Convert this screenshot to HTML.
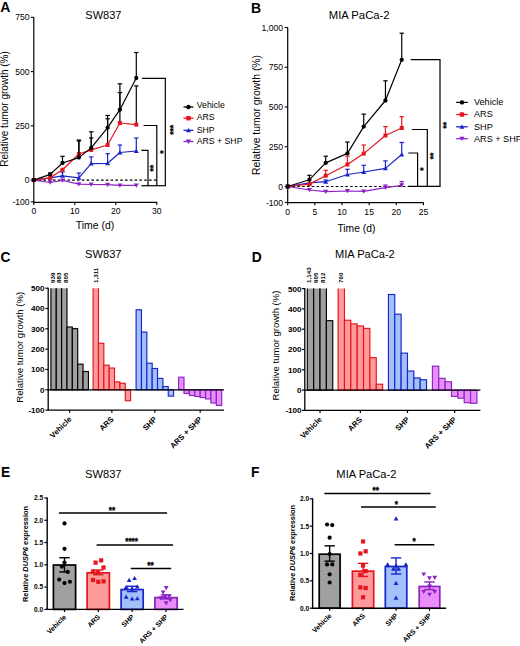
<!DOCTYPE html>
<html><head><meta charset="utf-8"><style>
html,body{margin:0;padding:0;background:#fff;}
svg{display:block;font-family:"Liberation Sans", sans-serif;}
</style></head><body>
<svg width="520" height="646" viewBox="0 0 520 646">
<rect width="520" height="646" fill="#fff"/>
<text x="0.3" y="12.3" font-size="14" text-anchor="start" font-weight="bold" fill="#000">A</text>
<text x="103.4" y="18.7" font-size="11" text-anchor="middle" fill="#000">SW837</text>
<line x1="33.80" y1="17.35" x2="33.80" y2="202.30" stroke="#000" stroke-width="1.2"/>
<line x1="33.20" y1="202.30" x2="157.20" y2="202.30" stroke="#000" stroke-width="1.2"/>
<line x1="30.80" y1="17.35" x2="33.80" y2="17.35" stroke="#000" stroke-width="1.1"/>
<text x="29.6" y="20.449999999999996" font-size="8.6" text-anchor="end" fill="#000">750</text>
<line x1="30.80" y1="71.60" x2="33.80" y2="71.60" stroke="#000" stroke-width="1.1"/>
<text x="29.6" y="74.69999999999999" font-size="8.6" text-anchor="end" fill="#000">500</text>
<line x1="30.80" y1="125.85" x2="33.80" y2="125.85" stroke="#000" stroke-width="1.1"/>
<text x="29.6" y="128.95" font-size="8.6" text-anchor="end" fill="#000">250</text>
<line x1="30.80" y1="180.10" x2="33.80" y2="180.10" stroke="#000" stroke-width="1.1"/>
<text x="29.6" y="183.2" font-size="8.6" text-anchor="end" fill="#000">0</text>
<line x1="30.80" y1="201.80" x2="33.80" y2="201.80" stroke="#000" stroke-width="1.1"/>
<text x="29.6" y="204.89999999999998" font-size="8.6" text-anchor="end" fill="#000">-100</text>
<line x1="33.80" y1="202.30" x2="33.80" y2="205.00" stroke="#000" stroke-width="1.1"/>
<text x="33.8" y="214.3" font-size="8.6" text-anchor="middle" fill="#000">0</text>
<line x1="74.80" y1="202.30" x2="74.80" y2="205.00" stroke="#000" stroke-width="1.1"/>
<text x="74.8" y="214.3" font-size="8.6" text-anchor="middle" fill="#000">10</text>
<line x1="115.80" y1="202.30" x2="115.80" y2="205.00" stroke="#000" stroke-width="1.1"/>
<text x="115.8" y="214.3" font-size="8.6" text-anchor="middle" fill="#000">20</text>
<line x1="156.80" y1="202.30" x2="156.80" y2="205.00" stroke="#000" stroke-width="1.1"/>
<text x="156.79999999999998" y="214.3" font-size="8.6" text-anchor="middle" fill="#000">30</text>
<text x="95.0" y="229.2" font-size="10.4" text-anchor="middle" fill="#000">Time (d)</text>
<text x="8.3" y="109.0" font-size="10" text-anchor="middle" fill="#000" transform="rotate(-90 8.3 109.0)">Relative tumor growth (%)</text>
<line x1="33.80" y1="180.10" x2="157.00" y2="180.10" stroke="#000" stroke-width="1.1" stroke-dasharray="2.6,2.2"/>
<polyline points="33.80,180.10 50.20,182.50 62.50,180.50 78.90,184.10 91.20,184.50 107.60,184.70 119.90,185.40 136.30,185.40" fill="none" stroke="#8a22c4" stroke-width="1.2" stroke-linejoin="round"/>
<polygon points="33.80,182.47 31.33,178.16 36.27,178.16" fill="#8a22c4"/>
<polygon points="50.20,184.87 47.73,180.56 52.67,180.56" fill="#8a22c4"/>
<polygon points="62.50,182.87 60.03,178.56 64.97,178.56" fill="#8a22c4"/>
<polygon points="78.90,186.47 76.43,182.16 81.37,182.16" fill="#8a22c4"/>
<polygon points="91.20,186.87 88.73,182.56 93.67,182.56" fill="#8a22c4"/>
<polygon points="107.60,187.06 105.13,182.76 110.07,182.76" fill="#8a22c4"/>
<polygon points="119.90,187.77 117.43,183.47 122.37,183.47" fill="#8a22c4"/>
<polygon points="136.30,187.77 133.83,183.47 138.77,183.47" fill="#8a22c4"/>
<line x1="62.50" y1="175.80" x2="62.50" y2="172.00" stroke="#1a24c8" stroke-width="1.2"/>
<line x1="60.30" y1="172.00" x2="64.70" y2="172.00" stroke="#1a24c8" stroke-width="1.2"/>
<line x1="78.90" y1="177.80" x2="78.90" y2="173.00" stroke="#1a24c8" stroke-width="1.2"/>
<line x1="76.70" y1="173.00" x2="81.10" y2="173.00" stroke="#1a24c8" stroke-width="1.2"/>
<line x1="91.20" y1="163.60" x2="91.20" y2="156.90" stroke="#1a24c8" stroke-width="1.2"/>
<line x1="89.00" y1="156.90" x2="93.40" y2="156.90" stroke="#1a24c8" stroke-width="1.2"/>
<line x1="107.60" y1="163.30" x2="107.60" y2="153.70" stroke="#1a24c8" stroke-width="1.2"/>
<line x1="105.40" y1="153.70" x2="109.80" y2="153.70" stroke="#1a24c8" stroke-width="1.2"/>
<line x1="119.90" y1="152.50" x2="119.90" y2="145.00" stroke="#1a24c8" stroke-width="1.2"/>
<line x1="117.70" y1="145.00" x2="122.10" y2="145.00" stroke="#1a24c8" stroke-width="1.2"/>
<line x1="136.30" y1="151.00" x2="136.30" y2="138.00" stroke="#1a24c8" stroke-width="1.2"/>
<line x1="134.10" y1="138.00" x2="138.50" y2="138.00" stroke="#1a24c8" stroke-width="1.2"/>
<polyline points="33.80,180.10 50.20,177.80 62.50,175.80 78.90,177.80 91.20,163.60 107.60,163.30 119.90,152.50 136.30,151.00" fill="none" stroke="#1a24c8" stroke-width="1.2" stroke-linejoin="round"/>
<polygon points="33.80,177.73 31.33,182.03 36.27,182.03" fill="#1a24c8"/>
<polygon points="50.20,175.44 47.73,179.74 52.67,179.74" fill="#1a24c8"/>
<polygon points="62.50,173.44 60.03,177.74 64.97,177.74" fill="#1a24c8"/>
<polygon points="78.90,175.44 76.43,179.74 81.37,179.74" fill="#1a24c8"/>
<polygon points="91.20,161.23 88.73,165.53 93.67,165.53" fill="#1a24c8"/>
<polygon points="107.60,160.94 105.13,165.24 110.07,165.24" fill="#1a24c8"/>
<polygon points="119.90,150.13 117.43,154.44 122.37,154.44" fill="#1a24c8"/>
<polygon points="136.30,148.63 133.83,152.94 138.77,152.94" fill="#1a24c8"/>
<line x1="78.90" y1="154.00" x2="78.90" y2="141.00" stroke="#000" stroke-width="1.2"/>
<line x1="76.70" y1="141.00" x2="81.10" y2="141.00" stroke="#000" stroke-width="1.2"/>
<line x1="91.20" y1="149.90" x2="91.20" y2="138.00" stroke="#000" stroke-width="1.2"/>
<line x1="89.00" y1="138.00" x2="93.40" y2="138.00" stroke="#000" stroke-width="1.2"/>
<line x1="107.60" y1="145.00" x2="107.60" y2="118.80" stroke="#000" stroke-width="1.2"/>
<line x1="105.40" y1="118.80" x2="109.80" y2="118.80" stroke="#000" stroke-width="1.2"/>
<line x1="119.90" y1="123.00" x2="119.90" y2="92.60" stroke="#000" stroke-width="1.2"/>
<line x1="117.70" y1="92.60" x2="122.10" y2="92.60" stroke="#000" stroke-width="1.2"/>
<line x1="136.30" y1="124.60" x2="136.30" y2="85.90" stroke="#000" stroke-width="1.2"/>
<line x1="134.10" y1="85.90" x2="138.50" y2="85.90" stroke="#000" stroke-width="1.2"/>
<polyline points="33.80,180.10 50.20,177.80 62.50,169.70 78.90,154.00 91.20,149.90 107.60,145.00 119.90,123.00 136.30,124.60" fill="none" stroke="#e3151f" stroke-width="1.2" stroke-linejoin="round"/>
<rect x="31.80" y="178.10" width="4.00" height="4.00" fill="#e3151f"/>
<rect x="48.20" y="175.80" width="4.00" height="4.00" fill="#e3151f"/>
<rect x="60.50" y="167.70" width="4.00" height="4.00" fill="#e3151f"/>
<rect x="76.90" y="152.00" width="4.00" height="4.00" fill="#e3151f"/>
<rect x="89.20" y="147.90" width="4.00" height="4.00" fill="#e3151f"/>
<rect x="105.60" y="143.00" width="4.00" height="4.00" fill="#e3151f"/>
<rect x="117.90" y="121.00" width="4.00" height="4.00" fill="#e3151f"/>
<rect x="134.30" y="122.60" width="4.00" height="4.00" fill="#e3151f"/>
<line x1="50.20" y1="174.40" x2="50.20" y2="173.00" stroke="#000" stroke-width="1.2"/>
<line x1="48.00" y1="173.00" x2="52.40" y2="173.00" stroke="#000" stroke-width="1.2"/>
<line x1="62.50" y1="163.00" x2="62.50" y2="156.30" stroke="#000" stroke-width="1.2"/>
<line x1="60.30" y1="156.30" x2="64.70" y2="156.30" stroke="#000" stroke-width="1.2"/>
<line x1="78.90" y1="157.60" x2="78.90" y2="140.00" stroke="#000" stroke-width="1.2"/>
<line x1="76.70" y1="140.00" x2="81.10" y2="140.00" stroke="#000" stroke-width="1.2"/>
<line x1="91.20" y1="147.90" x2="91.20" y2="131.80" stroke="#000" stroke-width="1.2"/>
<line x1="89.00" y1="131.80" x2="93.40" y2="131.80" stroke="#000" stroke-width="1.2"/>
<line x1="107.60" y1="127.70" x2="107.60" y2="115.50" stroke="#000" stroke-width="1.2"/>
<line x1="105.40" y1="115.50" x2="109.80" y2="115.50" stroke="#000" stroke-width="1.2"/>
<line x1="119.90" y1="109.70" x2="119.90" y2="83.80" stroke="#000" stroke-width="1.2"/>
<line x1="117.70" y1="83.80" x2="122.10" y2="83.80" stroke="#000" stroke-width="1.2"/>
<line x1="136.30" y1="78.00" x2="136.30" y2="52.50" stroke="#000" stroke-width="1.2"/>
<line x1="134.10" y1="52.50" x2="138.50" y2="52.50" stroke="#000" stroke-width="1.2"/>
<polyline points="33.80,180.10 50.20,174.40 62.50,163.00 78.90,157.60 91.20,147.90 107.60,127.70 119.90,109.70 136.30,78.00" fill="none" stroke="#000" stroke-width="1.2" stroke-linejoin="round"/>
<circle cx="33.80" cy="180.10" r="2.15" fill="#000"/>
<circle cx="50.20" cy="174.40" r="2.15" fill="#000"/>
<circle cx="62.50" cy="163.00" r="2.15" fill="#000"/>
<circle cx="78.90" cy="157.60" r="2.15" fill="#000"/>
<circle cx="91.20" cy="147.90" r="2.15" fill="#000"/>
<circle cx="107.60" cy="127.70" r="2.15" fill="#000"/>
<circle cx="119.90" cy="109.70" r="2.15" fill="#000"/>
<circle cx="136.30" cy="78.00" r="2.15" fill="#000"/>
<polyline points="141.9,78.4 165.3,78.4 165.3,185.7" fill="none" stroke="#000" stroke-width="1.2"/>
<polyline points="143.5,125.5 156.8,125.5 156.8,185.7" fill="none" stroke="#000" stroke-width="1.2"/>
<polyline points="141.4,150.4 148.0,150.4 148.0,185.7" fill="none" stroke="#000" stroke-width="1.2"/>
<line x1="141.40" y1="185.70" x2="165.90" y2="185.70" stroke="#000" stroke-width="1.2"/>
<text x="175.8" y="129.8" font-size="8.3" text-anchor="middle" font-weight="bold" fill="#000" stroke="#000" stroke-width="0.3" transform="rotate(-90 175.8 129.8)">***</text>
<text x="166.2" y="152.1" font-size="8.3" text-anchor="middle" font-weight="bold" fill="#000" stroke="#000" stroke-width="0.3" transform="rotate(-90 166.2 152.1)">*</text>
<text x="156.4" y="168.3" font-size="8.3" text-anchor="middle" font-weight="bold" fill="#000" stroke="#000" stroke-width="0.3" transform="rotate(-90 156.4 168.3)">**</text>
<line x1="183.50" y1="107.00" x2="193.40" y2="107.00" stroke="#000" stroke-width="1.3"/>
<circle cx="188.45" cy="107.00" r="2.2" fill="#000"/>
<text x="196.8" y="107.7" font-size="8.7" text-anchor="start" fill="#000">Vehicle</text>
<line x1="183.50" y1="118.20" x2="193.40" y2="118.20" stroke="#e3151f" stroke-width="1.3"/>
<rect x="186.25" y="116.00" width="4.40" height="4.40" fill="#e3151f"/>
<text x="196.8" y="119.7" font-size="8.7" text-anchor="start" fill="#000">ARS</text>
<line x1="183.50" y1="130.30" x2="193.40" y2="130.30" stroke="#1a24c8" stroke-width="1.3"/>
<polygon points="188.45,127.88 185.92,132.28 190.98,132.28" fill="#1a24c8"/>
<text x="196.8" y="132.9" font-size="8.7" text-anchor="start" fill="#000">SHP</text>
<line x1="183.50" y1="141.50" x2="193.40" y2="141.50" stroke="#8a22c4" stroke-width="1.3"/>
<polygon points="188.45,143.92 185.92,139.52 190.98,139.52" fill="#8a22c4"/>
<text x="196.8" y="144.4" font-size="8.7" text-anchor="start" fill="#000">ARS + SHP</text>
<text x="251.0" y="12.6" font-size="14" text-anchor="start" font-weight="bold" fill="#000">B</text>
<text x="359.2" y="19.2" font-size="11.3" text-anchor="middle" fill="#000">MIA PaCa-2</text>
<line x1="287.70" y1="27.50" x2="287.70" y2="202.60" stroke="#000" stroke-width="1.2"/>
<line x1="287.10" y1="202.60" x2="423.45" y2="202.60" stroke="#000" stroke-width="1.2"/>
<line x1="284.70" y1="27.50" x2="287.70" y2="27.50" stroke="#000" stroke-width="1.1"/>
<text x="283.1" y="30.6" font-size="8.6" text-anchor="end" fill="#000">1,000</text>
<line x1="284.70" y1="67.25" x2="287.70" y2="67.25" stroke="#000" stroke-width="1.1"/>
<text x="283.1" y="70.35" font-size="8.6" text-anchor="end" fill="#000">750</text>
<line x1="284.70" y1="107.00" x2="287.70" y2="107.00" stroke="#000" stroke-width="1.1"/>
<text x="283.1" y="110.1" font-size="8.6" text-anchor="end" fill="#000">500</text>
<line x1="284.70" y1="146.75" x2="287.70" y2="146.75" stroke="#000" stroke-width="1.1"/>
<text x="283.1" y="149.85" font-size="8.6" text-anchor="end" fill="#000">250</text>
<line x1="284.70" y1="186.50" x2="287.70" y2="186.50" stroke="#000" stroke-width="1.1"/>
<text x="283.1" y="189.6" font-size="8.6" text-anchor="end" fill="#000">0</text>
<line x1="284.70" y1="202.40" x2="287.70" y2="202.40" stroke="#000" stroke-width="1.1"/>
<text x="283.1" y="205.5" font-size="8.6" text-anchor="end" fill="#000">-100</text>
<line x1="287.70" y1="202.60" x2="287.70" y2="205.30" stroke="#000" stroke-width="1.1"/>
<text x="287.7" y="214.6" font-size="8.6" text-anchor="middle" fill="#000">0</text>
<line x1="314.85" y1="202.60" x2="314.85" y2="205.30" stroke="#000" stroke-width="1.1"/>
<text x="314.84999999999997" y="214.6" font-size="8.6" text-anchor="middle" fill="#000">5</text>
<line x1="342.00" y1="202.60" x2="342.00" y2="205.30" stroke="#000" stroke-width="1.1"/>
<text x="342.0" y="214.6" font-size="8.6" text-anchor="middle" fill="#000">10</text>
<line x1="369.15" y1="202.60" x2="369.15" y2="205.30" stroke="#000" stroke-width="1.1"/>
<text x="369.15" y="214.6" font-size="8.6" text-anchor="middle" fill="#000">15</text>
<line x1="396.30" y1="202.60" x2="396.30" y2="205.30" stroke="#000" stroke-width="1.1"/>
<text x="396.29999999999995" y="214.6" font-size="8.6" text-anchor="middle" fill="#000">20</text>
<line x1="423.45" y1="202.60" x2="423.45" y2="205.30" stroke="#000" stroke-width="1.1"/>
<text x="423.45" y="214.6" font-size="8.6" text-anchor="middle" fill="#000">25</text>
<text x="356.4" y="231.7" font-size="10.3" text-anchor="middle" fill="#000">Time (d)</text>
<text x="259.8" y="115.0" font-size="10.4" text-anchor="middle" fill="#000" transform="rotate(-90 259.8 115.0)">Relative tumor growth (%)</text>
<line x1="287.70" y1="186.50" x2="409.00" y2="186.50" stroke="#000" stroke-width="1.1" stroke-dasharray="2.6,2.2"/>
<line x1="385.44" y1="187.60" x2="385.44" y2="185.00" stroke="#8a22c4" stroke-width="1.2"/>
<line x1="383.24" y1="185.00" x2="387.64" y2="185.00" stroke="#8a22c4" stroke-width="1.2"/>
<line x1="401.73" y1="185.30" x2="401.73" y2="181.50" stroke="#8a22c4" stroke-width="1.2"/>
<line x1="399.53" y1="181.50" x2="403.93" y2="181.50" stroke="#8a22c4" stroke-width="1.2"/>
<polyline points="287.70,186.50 309.42,190.00 325.71,191.60 347.43,191.00 363.72,191.40 385.44,187.60 401.73,185.30" fill="none" stroke="#8a22c4" stroke-width="1.2" stroke-linejoin="round"/>
<polygon points="287.70,188.87 285.23,184.56 290.17,184.56" fill="#8a22c4"/>
<polygon points="309.42,192.37 306.95,188.06 311.89,188.06" fill="#8a22c4"/>
<polygon points="325.71,193.97 323.24,189.66 328.18,189.66" fill="#8a22c4"/>
<polygon points="347.43,193.37 344.96,189.06 349.90,189.06" fill="#8a22c4"/>
<polygon points="363.72,193.77 361.25,189.47 366.19,189.47" fill="#8a22c4"/>
<polygon points="385.44,189.97 382.97,185.66 387.91,185.66" fill="#8a22c4"/>
<polygon points="401.73,187.67 399.26,183.37 404.20,183.37" fill="#8a22c4"/>
<line x1="325.71" y1="181.70" x2="325.71" y2="180.00" stroke="#1a24c8" stroke-width="1.2"/>
<line x1="323.51" y1="180.00" x2="327.91" y2="180.00" stroke="#1a24c8" stroke-width="1.2"/>
<line x1="347.43" y1="174.50" x2="347.43" y2="169.30" stroke="#1a24c8" stroke-width="1.2"/>
<line x1="345.23" y1="169.30" x2="349.63" y2="169.30" stroke="#1a24c8" stroke-width="1.2"/>
<line x1="363.72" y1="172.00" x2="363.72" y2="165.30" stroke="#1a24c8" stroke-width="1.2"/>
<line x1="361.52" y1="165.30" x2="365.92" y2="165.30" stroke="#1a24c8" stroke-width="1.2"/>
<line x1="385.44" y1="168.40" x2="385.44" y2="160.90" stroke="#1a24c8" stroke-width="1.2"/>
<line x1="383.24" y1="160.90" x2="387.64" y2="160.90" stroke="#1a24c8" stroke-width="1.2"/>
<line x1="401.73" y1="154.50" x2="401.73" y2="142.50" stroke="#1a24c8" stroke-width="1.2"/>
<line x1="399.53" y1="142.50" x2="403.93" y2="142.50" stroke="#1a24c8" stroke-width="1.2"/>
<polyline points="287.70,186.50 309.42,182.80 325.71,181.70 347.43,174.50 363.72,172.00 385.44,168.40 401.73,154.50" fill="none" stroke="#1a24c8" stroke-width="1.2" stroke-linejoin="round"/>
<polygon points="287.70,184.13 285.23,188.44 290.17,188.44" fill="#1a24c8"/>
<polygon points="309.42,180.44 306.95,184.74 311.89,184.74" fill="#1a24c8"/>
<polygon points="325.71,179.33 323.24,183.63 328.18,183.63" fill="#1a24c8"/>
<polygon points="347.43,172.13 344.96,176.44 349.90,176.44" fill="#1a24c8"/>
<polygon points="363.72,169.63 361.25,173.94 366.19,173.94" fill="#1a24c8"/>
<polygon points="385.44,166.03 382.97,170.34 387.91,170.34" fill="#1a24c8"/>
<polygon points="401.73,152.13 399.26,156.44 404.20,156.44" fill="#1a24c8"/>
<line x1="325.71" y1="175.70" x2="325.71" y2="170.30" stroke="#e3151f" stroke-width="1.2"/>
<line x1="323.51" y1="170.30" x2="327.91" y2="170.30" stroke="#e3151f" stroke-width="1.2"/>
<line x1="347.43" y1="164.50" x2="347.43" y2="156.20" stroke="#e3151f" stroke-width="1.2"/>
<line x1="345.23" y1="156.20" x2="349.63" y2="156.20" stroke="#e3151f" stroke-width="1.2"/>
<line x1="363.72" y1="153.60" x2="363.72" y2="145.00" stroke="#e3151f" stroke-width="1.2"/>
<line x1="361.52" y1="145.00" x2="365.92" y2="145.00" stroke="#e3151f" stroke-width="1.2"/>
<line x1="385.44" y1="135.50" x2="385.44" y2="126.60" stroke="#e3151f" stroke-width="1.2"/>
<line x1="383.24" y1="126.60" x2="387.64" y2="126.60" stroke="#e3151f" stroke-width="1.2"/>
<line x1="401.73" y1="128.00" x2="401.73" y2="116.70" stroke="#e3151f" stroke-width="1.2"/>
<line x1="399.53" y1="116.70" x2="403.93" y2="116.70" stroke="#e3151f" stroke-width="1.2"/>
<polyline points="287.70,186.50 309.42,184.10 325.71,175.70 347.43,164.50 363.72,153.60 385.44,135.50 401.73,128.00" fill="none" stroke="#e3151f" stroke-width="1.2" stroke-linejoin="round"/>
<rect x="285.70" y="184.50" width="4.00" height="4.00" fill="#e3151f"/>
<rect x="307.42" y="182.10" width="4.00" height="4.00" fill="#e3151f"/>
<rect x="323.71" y="173.70" width="4.00" height="4.00" fill="#e3151f"/>
<rect x="345.43" y="162.50" width="4.00" height="4.00" fill="#e3151f"/>
<rect x="361.72" y="151.60" width="4.00" height="4.00" fill="#e3151f"/>
<rect x="383.44" y="133.50" width="4.00" height="4.00" fill="#e3151f"/>
<rect x="399.73" y="126.00" width="4.00" height="4.00" fill="#e3151f"/>
<line x1="309.42" y1="179.70" x2="309.42" y2="175.30" stroke="#000" stroke-width="1.2"/>
<line x1="307.22" y1="175.30" x2="311.62" y2="175.30" stroke="#000" stroke-width="1.2"/>
<line x1="325.71" y1="162.90" x2="325.71" y2="156.20" stroke="#000" stroke-width="1.2"/>
<line x1="323.51" y1="156.20" x2="327.91" y2="156.20" stroke="#000" stroke-width="1.2"/>
<line x1="347.43" y1="153.40" x2="347.43" y2="142.00" stroke="#000" stroke-width="1.2"/>
<line x1="345.23" y1="142.00" x2="349.63" y2="142.00" stroke="#000" stroke-width="1.2"/>
<line x1="363.72" y1="126.60" x2="363.72" y2="114.10" stroke="#000" stroke-width="1.2"/>
<line x1="361.52" y1="114.10" x2="365.92" y2="114.10" stroke="#000" stroke-width="1.2"/>
<line x1="385.44" y1="100.50" x2="385.44" y2="80.80" stroke="#000" stroke-width="1.2"/>
<line x1="383.24" y1="80.80" x2="387.64" y2="80.80" stroke="#000" stroke-width="1.2"/>
<line x1="401.73" y1="59.80" x2="401.73" y2="33.20" stroke="#000" stroke-width="1.2"/>
<line x1="399.53" y1="33.20" x2="403.93" y2="33.20" stroke="#000" stroke-width="1.2"/>
<polyline points="287.70,186.50 309.42,179.70 325.71,162.90 347.43,153.40 363.72,126.60 385.44,100.50 401.73,59.80" fill="none" stroke="#000" stroke-width="1.2" stroke-linejoin="round"/>
<circle cx="287.70" cy="186.50" r="2.15" fill="#000"/>
<circle cx="309.42" cy="179.70" r="2.15" fill="#000"/>
<circle cx="325.71" cy="162.90" r="2.15" fill="#000"/>
<circle cx="347.43" cy="153.40" r="2.15" fill="#000"/>
<circle cx="363.72" cy="126.60" r="2.15" fill="#000"/>
<circle cx="385.44" cy="100.50" r="2.15" fill="#000"/>
<circle cx="401.73" cy="59.80" r="2.15" fill="#000"/>
<polyline points="410.7,59.6 440.0,59.6 440.0,186.3" fill="none" stroke="#000" stroke-width="1.2"/>
<polyline points="411.7,129.5 427.3,129.5 427.3,186.3" fill="none" stroke="#000" stroke-width="1.2"/>
<polyline points="408.3,153.0 417.6,153.0 417.6,186.3" fill="none" stroke="#000" stroke-width="1.2"/>
<line x1="408.30" y1="186.30" x2="440.60" y2="186.30" stroke="#000" stroke-width="1.2"/>
<text x="449.0" y="125.2" font-size="8.5" text-anchor="middle" font-weight="bold" fill="#000" stroke="#000" stroke-width="0.3" transform="rotate(-90 449.0 125.2)">**</text>
<text x="435.8" y="156.0" font-size="8.5" text-anchor="middle" font-weight="bold" fill="#000" stroke="#000" stroke-width="0.3" transform="rotate(-90 435.8 156.0)">**</text>
<text x="425.6" y="169.1" font-size="8.5" text-anchor="middle" font-weight="bold" fill="#000" stroke="#000" stroke-width="0.3" transform="rotate(-90 425.6 169.1)">*</text>
<line x1="456.20" y1="102.40" x2="467.70" y2="102.40" stroke="#000" stroke-width="1.3"/>
<circle cx="461.95" cy="102.40" r="2.2" fill="#000"/>
<text x="474.0" y="105.0" font-size="9.1" text-anchor="start" fill="#000">Vehicle</text>
<line x1="456.20" y1="114.50" x2="467.70" y2="114.50" stroke="#e3151f" stroke-width="1.3"/>
<rect x="459.75" y="112.30" width="4.40" height="4.40" fill="#e3151f"/>
<text x="474.0" y="117.2" font-size="9.1" text-anchor="start" fill="#000">ARS</text>
<line x1="456.20" y1="126.80" x2="467.70" y2="126.80" stroke="#1a24c8" stroke-width="1.3"/>
<polygon points="461.95,124.38 459.42,128.78 464.48,128.78" fill="#1a24c8"/>
<text x="474.0" y="129.9" font-size="9.1" text-anchor="start" fill="#000">SHP</text>
<line x1="456.20" y1="138.70" x2="467.70" y2="138.70" stroke="#8a22c4" stroke-width="1.3"/>
<polygon points="461.95,141.12 459.42,136.72 464.48,136.72" fill="#8a22c4"/>
<text x="474.0" y="141.9" font-size="9.1" text-anchor="start" fill="#000">ARS + SHP</text>
<text font-size="15" font-weight="bold" transform="translate(0.6 261.6) scale(0.92 1)">C</text>
<text x="103.3" y="257.5" font-size="11.1" text-anchor="middle" fill="#000">SW837</text>
<clipPath id="clipC"><rect x="0" y="288.20" width="520" height="200"/></clipPath>
<g clip-path="url(#clipC)">
<rect x="50.90" y="284.14" width="5.36" height="105.66" fill="#a0a0a0" stroke="#000" stroke-width="1.15"/>
<rect x="56.26" y="284.14" width="5.36" height="105.66" fill="#a0a0a0" stroke="#000" stroke-width="1.15"/>
<rect x="61.62" y="284.14" width="5.36" height="105.66" fill="#a0a0a0" stroke="#000" stroke-width="1.15"/>
<rect x="66.98" y="327.01" width="5.36" height="62.79" fill="#a0a0a0" stroke="#000" stroke-width="1.15"/>
<rect x="72.34" y="328.64" width="5.36" height="61.16" fill="#a0a0a0" stroke="#000" stroke-width="1.15"/>
<rect x="77.70" y="364.20" width="5.36" height="25.60" fill="#a0a0a0" stroke="#000" stroke-width="1.15"/>
<rect x="83.06" y="371.51" width="5.36" height="18.29" fill="#a0a0a0" stroke="#000" stroke-width="1.15"/>
<rect x="93.10" y="284.14" width="5.36" height="105.66" fill="#ff9a9a" stroke="#e3151f" stroke-width="1.15"/>
<rect x="98.46" y="343.27" width="5.36" height="46.53" fill="#ff9a9a" stroke="#e3151f" stroke-width="1.15"/>
<rect x="103.82" y="365.21" width="5.36" height="24.59" fill="#ff9a9a" stroke="#e3151f" stroke-width="1.15"/>
<rect x="109.18" y="368.06" width="5.36" height="21.74" fill="#ff9a9a" stroke="#e3151f" stroke-width="1.15"/>
<rect x="114.54" y="381.88" width="5.36" height="7.92" fill="#ff9a9a" stroke="#e3151f" stroke-width="1.15"/>
<rect x="119.90" y="383.30" width="5.36" height="6.50" fill="#ff9a9a" stroke="#e3151f" stroke-width="1.15"/>
<rect x="125.26" y="389.80" width="5.36" height="10.97" fill="#ff9a9a" stroke="#e3151f" stroke-width="1.15"/>
<rect x="136.10" y="309.74" width="5.36" height="80.06" fill="#a2c0fa" stroke="#1a24c8" stroke-width="1.15"/>
<rect x="141.46" y="332.09" width="5.36" height="57.71" fill="#a2c0fa" stroke="#1a24c8" stroke-width="1.15"/>
<rect x="146.82" y="363.18" width="5.36" height="26.62" fill="#a2c0fa" stroke="#1a24c8" stroke-width="1.15"/>
<rect x="152.18" y="368.46" width="5.36" height="21.34" fill="#a2c0fa" stroke="#1a24c8" stroke-width="1.15"/>
<rect x="157.54" y="378.42" width="5.36" height="11.38" fill="#a2c0fa" stroke="#1a24c8" stroke-width="1.15"/>
<rect x="162.90" y="386.55" width="5.36" height="3.25" fill="#a2c0fa" stroke="#1a24c8" stroke-width="1.15"/>
<rect x="168.26" y="389.80" width="5.36" height="6.30" fill="#a2c0fa" stroke="#1a24c8" stroke-width="1.15"/>
<rect x="178.60" y="377.20" width="5.39" height="12.60" fill="#e98ef8" stroke="#8a22c4" stroke-width="1.15"/>
<rect x="183.99" y="389.80" width="5.39" height="3.66" fill="#e98ef8" stroke="#8a22c4" stroke-width="1.15"/>
<rect x="189.38" y="389.80" width="5.39" height="5.69" fill="#e98ef8" stroke="#8a22c4" stroke-width="1.15"/>
<rect x="194.77" y="389.80" width="5.39" height="6.71" fill="#e98ef8" stroke="#8a22c4" stroke-width="1.15"/>
<rect x="200.16" y="389.80" width="5.39" height="7.72" fill="#e98ef8" stroke="#8a22c4" stroke-width="1.15"/>
<rect x="205.55" y="389.80" width="5.39" height="9.14" fill="#e98ef8" stroke="#8a22c4" stroke-width="1.15"/>
<rect x="210.94" y="389.80" width="5.39" height="13.21" fill="#e98ef8" stroke="#8a22c4" stroke-width="1.15"/>
<rect x="216.33" y="389.80" width="5.39" height="15.65" fill="#e98ef8" stroke="#8a22c4" stroke-width="1.15"/>
</g>
<line x1="48.20" y1="389.80" x2="224.00" y2="389.80" stroke="#000" stroke-width="1.3"/>
<line x1="48.20" y1="287.70" x2="48.20" y2="410.12" stroke="#000" stroke-width="1.3"/>
<line x1="47.60" y1="410.12" x2="224.00" y2="410.12" stroke="#000" stroke-width="1.3"/>
<line x1="45.40" y1="288.20" x2="48.20" y2="288.20" stroke="#000" stroke-width="1.2"/>
<text x="44.6" y="291.1" font-size="8.1" text-anchor="end" font-weight="bold" fill="#000">500</text>
<line x1="45.40" y1="308.52" x2="48.20" y2="308.52" stroke="#000" stroke-width="1.2"/>
<text x="44.6" y="311.41999999999996" font-size="8.1" text-anchor="end" font-weight="bold" fill="#000">400</text>
<line x1="45.40" y1="328.84" x2="48.20" y2="328.84" stroke="#000" stroke-width="1.2"/>
<text x="44.6" y="331.74" font-size="8.1" text-anchor="end" font-weight="bold" fill="#000">300</text>
<line x1="45.40" y1="349.16" x2="48.20" y2="349.16" stroke="#000" stroke-width="1.2"/>
<text x="44.6" y="352.06" font-size="8.1" text-anchor="end" font-weight="bold" fill="#000">200</text>
<line x1="45.40" y1="369.48" x2="48.20" y2="369.48" stroke="#000" stroke-width="1.2"/>
<text x="44.6" y="372.38" font-size="8.1" text-anchor="end" font-weight="bold" fill="#000">100</text>
<line x1="45.40" y1="389.80" x2="48.20" y2="389.80" stroke="#000" stroke-width="1.2"/>
<text x="44.6" y="392.7" font-size="8.1" text-anchor="end" font-weight="bold" fill="#000">0</text>
<line x1="45.40" y1="410.12" x2="48.20" y2="410.12" stroke="#000" stroke-width="1.2"/>
<text x="44.6" y="413.02" font-size="8.1" text-anchor="end" font-weight="bold" fill="#000">-100</text>
<line x1="69.66" y1="410.12" x2="69.66" y2="412.72" stroke="#000" stroke-width="1.2"/>
<text x="72.06" y="419.72" font-size="7.8" text-anchor="end" font-weight="bold" fill="#000" transform="rotate(-45 72.06 419.72)">Vehicle</text>
<line x1="111.86" y1="410.12" x2="111.86" y2="412.72" stroke="#000" stroke-width="1.2"/>
<text x="114.26" y="419.72" font-size="7.8" text-anchor="end" font-weight="bold" fill="#000" transform="rotate(-45 114.26 419.72)">ARS</text>
<line x1="154.86" y1="410.12" x2="154.86" y2="412.72" stroke="#000" stroke-width="1.2"/>
<text x="157.26" y="419.72" font-size="7.8" text-anchor="end" font-weight="bold" fill="#000" transform="rotate(-45 157.26 419.72)">SHP</text>
<line x1="200.16" y1="410.12" x2="200.16" y2="412.72" stroke="#000" stroke-width="1.2"/>
<text x="202.56" y="419.72" font-size="7.8" text-anchor="end" font-weight="bold" fill="#000" transform="rotate(-45 202.56 419.72)">ARS + SHP</text>
<text x="22.7" y="347.2" font-size="9.6" text-anchor="middle" fill="#000" transform="rotate(-90 22.7 347.2)">Relative tumor growth (%)</text>
<text x="54.80" y="282.9" font-size="6.2" text-anchor="start" font-weight="bold" fill="#000" transform="rotate(-90 54.80 282.9)">939</text>
<text x="61.30" y="282.9" font-size="6.2" text-anchor="start" font-weight="bold" fill="#000" transform="rotate(-90 61.30 282.9)">883</text>
<text x="67.80" y="282.9" font-size="6.2" text-anchor="start" font-weight="bold" fill="#000" transform="rotate(-90 67.80 282.9)">805</text>
<text x="98.00" y="282.9" font-size="6.2" text-anchor="start" font-weight="bold" fill="#000" transform="rotate(-90 98.00 282.9)">1,311</text>
<text font-size="15" font-weight="bold" transform="translate(251.8 262.3) scale(0.92 1)">D</text>
<text x="364.9" y="257.9" font-size="11.1" text-anchor="middle" fill="#000">MIA PaCa-2</text>
<clipPath id="clipD"><rect x="0" y="288.60" width="520" height="200"/></clipPath>
<g clip-path="url(#clipD)">
<rect x="307.30" y="284.54" width="6.36" height="105.56" fill="#a0a0a0" stroke="#000" stroke-width="1.15"/>
<rect x="313.66" y="284.54" width="6.36" height="105.56" fill="#a0a0a0" stroke="#000" stroke-width="1.15"/>
<rect x="320.02" y="284.54" width="6.36" height="105.56" fill="#a0a0a0" stroke="#000" stroke-width="1.15"/>
<rect x="326.38" y="320.67" width="6.36" height="69.43" fill="#a0a0a0" stroke="#000" stroke-width="1.15"/>
<rect x="338.10" y="284.54" width="6.36" height="105.56" fill="#ff9a9a" stroke="#e3151f" stroke-width="1.15"/>
<rect x="344.46" y="320.27" width="6.36" height="69.83" fill="#ff9a9a" stroke="#e3151f" stroke-width="1.15"/>
<rect x="350.82" y="323.92" width="6.36" height="66.18" fill="#ff9a9a" stroke="#e3151f" stroke-width="1.15"/>
<rect x="357.18" y="325.95" width="6.36" height="64.15" fill="#ff9a9a" stroke="#e3151f" stroke-width="1.15"/>
<rect x="363.54" y="328.39" width="6.36" height="61.71" fill="#ff9a9a" stroke="#e3151f" stroke-width="1.15"/>
<rect x="369.90" y="357.62" width="6.36" height="32.48" fill="#ff9a9a" stroke="#e3151f" stroke-width="1.15"/>
<rect x="376.26" y="384.21" width="6.36" height="5.89" fill="#ff9a9a" stroke="#e3151f" stroke-width="1.15"/>
<rect x="388.40" y="294.49" width="6.36" height="95.61" fill="#a2c0fa" stroke="#1a24c8" stroke-width="1.15"/>
<rect x="394.76" y="314.18" width="6.36" height="75.92" fill="#a2c0fa" stroke="#1a24c8" stroke-width="1.15"/>
<rect x="401.12" y="353.15" width="6.36" height="36.95" fill="#a2c0fa" stroke="#1a24c8" stroke-width="1.15"/>
<rect x="407.48" y="371.02" width="6.36" height="19.08" fill="#a2c0fa" stroke="#1a24c8" stroke-width="1.15"/>
<rect x="413.84" y="377.92" width="6.36" height="12.18" fill="#a2c0fa" stroke="#1a24c8" stroke-width="1.15"/>
<rect x="420.20" y="379.75" width="6.36" height="10.35" fill="#a2c0fa" stroke="#1a24c8" stroke-width="1.15"/>
<rect x="432.40" y="366.15" width="6.36" height="23.95" fill="#e98ef8" stroke="#8a22c4" stroke-width="1.15"/>
<rect x="438.76" y="378.33" width="6.36" height="11.77" fill="#e98ef8" stroke="#8a22c4" stroke-width="1.15"/>
<rect x="445.12" y="381.78" width="6.36" height="8.32" fill="#e98ef8" stroke="#8a22c4" stroke-width="1.15"/>
<rect x="451.48" y="390.10" width="6.36" height="6.29" fill="#e98ef8" stroke="#8a22c4" stroke-width="1.15"/>
<rect x="457.84" y="390.10" width="6.36" height="8.12" fill="#e98ef8" stroke="#8a22c4" stroke-width="1.15"/>
<rect x="464.20" y="390.10" width="6.36" height="12.59" fill="#e98ef8" stroke="#8a22c4" stroke-width="1.15"/>
<rect x="470.56" y="390.10" width="6.36" height="13.19" fill="#e98ef8" stroke="#8a22c4" stroke-width="1.15"/>
</g>
<line x1="304.80" y1="390.10" x2="480.40" y2="390.10" stroke="#000" stroke-width="1.3"/>
<line x1="304.80" y1="288.10" x2="304.80" y2="410.40" stroke="#000" stroke-width="1.3"/>
<line x1="304.20" y1="410.40" x2="480.40" y2="410.40" stroke="#000" stroke-width="1.3"/>
<line x1="302.00" y1="288.60" x2="304.80" y2="288.60" stroke="#000" stroke-width="1.2"/>
<text x="301.6" y="291.5" font-size="8.1" text-anchor="end" font-weight="bold" fill="#000">500</text>
<line x1="302.00" y1="308.90" x2="304.80" y2="308.90" stroke="#000" stroke-width="1.2"/>
<text x="301.6" y="311.8" font-size="8.1" text-anchor="end" font-weight="bold" fill="#000">400</text>
<line x1="302.00" y1="329.20" x2="304.80" y2="329.20" stroke="#000" stroke-width="1.2"/>
<text x="301.6" y="332.1" font-size="8.1" text-anchor="end" font-weight="bold" fill="#000">300</text>
<line x1="302.00" y1="349.50" x2="304.80" y2="349.50" stroke="#000" stroke-width="1.2"/>
<text x="301.6" y="352.4" font-size="8.1" text-anchor="end" font-weight="bold" fill="#000">200</text>
<line x1="302.00" y1="369.80" x2="304.80" y2="369.80" stroke="#000" stroke-width="1.2"/>
<text x="301.6" y="372.7" font-size="8.1" text-anchor="end" font-weight="bold" fill="#000">100</text>
<line x1="302.00" y1="390.10" x2="304.80" y2="390.10" stroke="#000" stroke-width="1.2"/>
<text x="301.6" y="393.0" font-size="8.1" text-anchor="end" font-weight="bold" fill="#000">0</text>
<line x1="302.00" y1="410.40" x2="304.80" y2="410.40" stroke="#000" stroke-width="1.2"/>
<text x="301.6" y="413.3" font-size="8.1" text-anchor="end" font-weight="bold" fill="#000">-100</text>
<line x1="320.02" y1="410.40" x2="320.02" y2="413.00" stroke="#000" stroke-width="1.2"/>
<text x="322.42" y="420.00" font-size="7.8" text-anchor="end" font-weight="bold" fill="#000" transform="rotate(-45 322.42 420.00)">Vehicle</text>
<line x1="360.36" y1="410.40" x2="360.36" y2="413.00" stroke="#000" stroke-width="1.2"/>
<text x="362.76" y="420.00" font-size="7.8" text-anchor="end" font-weight="bold" fill="#000" transform="rotate(-45 362.76 420.00)">ARS</text>
<line x1="407.48" y1="410.40" x2="407.48" y2="413.00" stroke="#000" stroke-width="1.2"/>
<text x="409.88" y="420.00" font-size="7.8" text-anchor="end" font-weight="bold" fill="#000" transform="rotate(-45 409.88 420.00)">SHP</text>
<line x1="454.66" y1="410.40" x2="454.66" y2="413.00" stroke="#000" stroke-width="1.2"/>
<text x="457.06" y="420.00" font-size="7.8" text-anchor="end" font-weight="bold" fill="#000" transform="rotate(-45 457.06 420.00)">ARS + SHP</text>
<text x="279.2" y="345.5" font-size="9.5" text-anchor="middle" fill="#000" transform="rotate(-90 279.2 345.5)">Relative tumor growth (%)</text>
<text x="310.60" y="282.9" font-size="6.2" text-anchor="start" font-weight="bold" fill="#000" transform="rotate(-90 310.60 282.9)">1,143</text>
<text x="318.10" y="282.9" font-size="6.2" text-anchor="start" font-weight="bold" fill="#000" transform="rotate(-90 318.10 282.9)">905</text>
<text x="325.00" y="282.9" font-size="6.2" text-anchor="start" font-weight="bold" fill="#000" transform="rotate(-90 325.00 282.9)">812</text>
<text x="343.40" y="282.9" font-size="6.2" text-anchor="start" font-weight="bold" fill="#000" transform="rotate(-90 343.40 282.9)">760</text>
<text font-size="15" font-weight="bold" transform="translate(0.9 476.9) scale(0.92 1)">E</text>
<text x="103.3" y="478.4" font-size="11.15" text-anchor="middle" fill="#000">SW837</text>
<rect x="53.40" y="565.01" width="22.20" height="44.39" fill="#a0a0a0" stroke="#000" stroke-width="1.7"/>
<rect x="87.10" y="572.80" width="22.30" height="36.60" fill="#ff9a9a" stroke="#e3151f" stroke-width="1.7"/>
<rect x="121.10" y="589.60" width="22.10" height="19.80" fill="#a2c0fa" stroke="#1a24c8" stroke-width="1.7"/>
<rect x="154.90" y="597.62" width="22.20" height="11.78" fill="#e98ef8" stroke="#8a22c4" stroke-width="1.7"/>
<circle cx="64.50" cy="523.40" r="2.1" fill="#000"/>
<circle cx="64.50" cy="548.80" r="2.1" fill="#000"/>
<circle cx="64.50" cy="562.61" r="2.1" fill="#000"/>
<circle cx="61.90" cy="566.62" r="2.1" fill="#000"/>
<circle cx="67.70" cy="571.97" r="2.1" fill="#000"/>
<circle cx="59.20" cy="579.54" r="2.1" fill="#000"/>
<circle cx="64.50" cy="583.11" r="2.1" fill="#000"/>
<circle cx="69.90" cy="581.77" r="2.1" fill="#000"/>
<line x1="64.50" y1="571.97" x2="64.50" y2="557.71" stroke="#000" stroke-width="1.4"/>
<line x1="59.30" y1="557.71" x2="69.70" y2="557.71" stroke="#000" stroke-width="1.4"/>
<line x1="59.30" y1="571.97" x2="69.70" y2="571.97" stroke="#000" stroke-width="1.4"/>
<rect x="93.45" y="560.51" width="4.20" height="4.20" fill="#e3151f"/>
<rect x="99.05" y="558.28" width="4.20" height="4.20" fill="#e3151f"/>
<rect x="101.45" y="565.41" width="4.20" height="4.20" fill="#e3151f"/>
<rect x="90.95" y="569.42" width="4.20" height="4.20" fill="#e3151f"/>
<rect x="95.85" y="570.32" width="4.20" height="4.20" fill="#e3151f"/>
<rect x="90.95" y="577.89" width="4.20" height="4.20" fill="#e3151f"/>
<rect x="96.15" y="579.67" width="4.20" height="4.20" fill="#e3151f"/>
<rect x="101.45" y="579.23" width="4.20" height="4.20" fill="#e3151f"/>
<line x1="98.25" y1="574.64" x2="98.25" y2="569.96" stroke="#e3151f" stroke-width="1.4"/>
<line x1="93.05" y1="569.96" x2="103.45" y2="569.96" stroke="#e3151f" stroke-width="1.4"/>
<line x1="93.05" y1="574.64" x2="103.45" y2="574.64" stroke="#e3151f" stroke-width="1.4"/>
<polygon points="129.15,577.68 126.73,581.88 131.56,581.88" fill="#1a24c8"/>
<polygon points="134.55,575.90 132.14,580.10 136.97,580.10" fill="#1a24c8"/>
<polygon points="126.15,584.81 123.73,589.01 128.56,589.01" fill="#1a24c8"/>
<polygon points="137.35,584.36 134.94,588.56 139.76,588.56" fill="#1a24c8"/>
<polygon points="132.15,586.15 129.74,590.35 134.56,590.35" fill="#1a24c8"/>
<polygon points="126.15,594.61 123.73,598.81 128.56,598.81" fill="#1a24c8"/>
<polygon points="132.15,596.40 129.74,600.60 134.56,600.60" fill="#1a24c8"/>
<polygon points="137.35,596.17 134.94,600.37 139.76,600.37" fill="#1a24c8"/>
<line x1="132.15" y1="591.58" x2="132.15" y2="586.23" stroke="#1a24c8" stroke-width="1.4"/>
<line x1="126.95" y1="586.23" x2="137.35" y2="586.23" stroke="#1a24c8" stroke-width="1.4"/>
<line x1="126.95" y1="591.58" x2="137.35" y2="591.58" stroke="#1a24c8" stroke-width="1.4"/>
<polygon points="166.20,590.32 163.78,586.12 168.61,586.12" fill="#8a22c4"/>
<polygon points="163.10,594.78 160.69,590.58 165.51,590.58" fill="#8a22c4"/>
<polygon points="169.20,598.34 166.78,594.14 171.61,594.14" fill="#8a22c4"/>
<polygon points="160.80,600.57 158.39,596.37 163.22,596.37" fill="#8a22c4"/>
<polygon points="170.30,602.35 167.89,598.15 172.72,598.15" fill="#8a22c4"/>
<polygon points="166.20,605.47 163.78,601.27 168.61,601.27" fill="#8a22c4"/>
<polygon points="164.50,598.79 162.09,594.59 166.91,594.59" fill="#8a22c4"/>
<line x1="166.00" y1="598.93" x2="166.00" y2="594.92" stroke="#8a22c4" stroke-width="1.4"/>
<line x1="160.80" y1="594.92" x2="171.20" y2="594.92" stroke="#8a22c4" stroke-width="1.4"/>
<line x1="160.80" y1="598.93" x2="171.20" y2="598.93" stroke="#8a22c4" stroke-width="1.4"/>
<line x1="47.20" y1="497.50" x2="47.20" y2="609.40" stroke="#000" stroke-width="1.4"/>
<line x1="46.50" y1="609.40" x2="183.50" y2="609.40" stroke="#000" stroke-width="1.4"/>
<line x1="44.40" y1="609.40" x2="47.20" y2="609.40" stroke="#000" stroke-width="1.2"/>
<text x="43.2" y="611.75" font-size="6.6" text-anchor="end" font-weight="bold" fill="#000">0.0</text>
<line x1="44.40" y1="587.12" x2="47.20" y2="587.12" stroke="#000" stroke-width="1.2"/>
<text x="43.2" y="589.47" font-size="6.6" text-anchor="end" font-weight="bold" fill="#000">0.5</text>
<line x1="44.40" y1="564.84" x2="47.20" y2="564.84" stroke="#000" stroke-width="1.2"/>
<text x="43.2" y="567.1899999999999" font-size="6.6" text-anchor="end" font-weight="bold" fill="#000">1.0</text>
<line x1="44.40" y1="542.56" x2="47.20" y2="542.56" stroke="#000" stroke-width="1.2"/>
<text x="43.2" y="544.91" font-size="6.6" text-anchor="end" font-weight="bold" fill="#000">1.5</text>
<line x1="44.40" y1="520.28" x2="47.20" y2="520.28" stroke="#000" stroke-width="1.2"/>
<text x="43.2" y="522.63" font-size="6.6" text-anchor="end" font-weight="bold" fill="#000">2.0</text>
<line x1="44.40" y1="498.00" x2="47.20" y2="498.00" stroke="#000" stroke-width="1.2"/>
<text x="43.2" y="500.35" font-size="6.6" text-anchor="end" font-weight="bold" fill="#000">2.5</text>
<line x1="64.50" y1="609.40" x2="64.50" y2="612.00" stroke="#000" stroke-width="1.2"/>
<text x="66.90" y="617.40" font-size="7.0" text-anchor="end" font-weight="bold" fill="#000" transform="rotate(-45 66.90 617.40)">Vehicle</text>
<line x1="98.25" y1="609.40" x2="98.25" y2="612.00" stroke="#000" stroke-width="1.2"/>
<text x="100.65" y="617.40" font-size="7.0" text-anchor="end" font-weight="bold" fill="#000" transform="rotate(-45 100.65 617.40)">ARS</text>
<line x1="132.15" y1="609.40" x2="132.15" y2="612.00" stroke="#000" stroke-width="1.2"/>
<text x="134.55" y="617.40" font-size="7.0" text-anchor="end" font-weight="bold" fill="#000" transform="rotate(-45 134.55 617.40)">SHP</text>
<line x1="166.00" y1="609.40" x2="166.00" y2="612.00" stroke="#000" stroke-width="1.2"/>
<text x="168.40" y="617.40" font-size="7.0" text-anchor="end" font-weight="bold" fill="#000" transform="rotate(-45 168.40 617.40)">ARS + SHP</text>
<text x="28.0" y="554.0" font-size="7.4" font-weight="bold" text-anchor="middle" transform="rotate(-90 28.0 554.0)">Relative <tspan font-style="italic">DUSP6</tspan> expression</text>
<line x1="58.90" y1="513.00" x2="167.10" y2="513.00" stroke="#000" stroke-width="1.5"/>
<text x="112.00" y="512.50" font-size="8.2" text-anchor="middle" font-weight="bold" stroke="#000" stroke-width="0.35">**</text>
<line x1="96.60" y1="544.90" x2="173.00" y2="544.90" stroke="#000" stroke-width="1.5"/>
<text x="131.60" y="544.40" font-size="8.2" text-anchor="middle" font-weight="bold" stroke="#000" stroke-width="0.35">****</text>
<line x1="130.80" y1="568.50" x2="171.20" y2="568.50" stroke="#000" stroke-width="1.5"/>
<text x="150.40" y="568.00" font-size="8.2" text-anchor="middle" font-weight="bold" stroke="#000" stroke-width="0.35">**</text>
<text font-size="15" font-weight="bold" transform="translate(250.9 476.6) scale(0.92 1)">F</text>
<text x="366.4" y="478.3" font-size="11.15" text-anchor="middle" fill="#000">MIA PaCa-2</text>
<rect x="319.20" y="554.20" width="20.90" height="54.00" fill="#a0a0a0" stroke="#000" stroke-width="1.7"/>
<rect x="352.40" y="571.16" width="21.30" height="37.04" fill="#ff9a9a" stroke="#e3151f" stroke-width="1.7"/>
<rect x="385.30" y="566.51" width="21.50" height="41.69" fill="#a2c0fa" stroke="#1a24c8" stroke-width="1.7"/>
<rect x="419.20" y="586.47" width="20.60" height="21.73" fill="#e98ef8" stroke="#8a22c4" stroke-width="1.7"/>
<circle cx="327.05" cy="524.51" r="2.1" fill="#000"/>
<circle cx="332.25" cy="525.06" r="2.1" fill="#000"/>
<circle cx="329.65" cy="537.64" r="2.1" fill="#000"/>
<circle cx="329.65" cy="554.05" r="2.1" fill="#000"/>
<circle cx="327.05" cy="564.44" r="2.1" fill="#000"/>
<circle cx="332.25" cy="564.44" r="2.1" fill="#000"/>
<circle cx="329.65" cy="574.29" r="2.1" fill="#000"/>
<circle cx="329.65" cy="582.49" r="2.1" fill="#000"/>
<line x1="329.65" y1="561.16" x2="329.65" y2="545.84" stroke="#000" stroke-width="1.4"/>
<line x1="324.45" y1="545.84" x2="334.85" y2="545.84" stroke="#000" stroke-width="1.4"/>
<line x1="324.45" y1="561.16" x2="334.85" y2="561.16" stroke="#000" stroke-width="1.4"/>
<rect x="360.95" y="539.37" width="4.20" height="4.20" fill="#e3151f"/>
<rect x="358.25" y="551.40" width="4.20" height="4.20" fill="#e3151f"/>
<rect x="363.55" y="549.21" width="4.20" height="4.20" fill="#e3151f"/>
<rect x="360.95" y="563.43" width="4.20" height="4.20" fill="#e3151f"/>
<rect x="358.25" y="572.73" width="4.20" height="4.20" fill="#e3151f"/>
<rect x="363.55" y="568.90" width="4.20" height="4.20" fill="#e3151f"/>
<rect x="358.25" y="585.31" width="4.20" height="4.20" fill="#e3151f"/>
<rect x="363.55" y="585.86" width="4.20" height="4.20" fill="#e3151f"/>
<rect x="360.95" y="595.16" width="4.20" height="4.20" fill="#e3151f"/>
<line x1="363.05" y1="576.47" x2="363.05" y2="563.35" stroke="#e3151f" stroke-width="1.4"/>
<line x1="357.85" y1="563.35" x2="368.25" y2="563.35" stroke="#e3151f" stroke-width="1.4"/>
<line x1="357.85" y1="576.47" x2="368.25" y2="576.47" stroke="#e3151f" stroke-width="1.4"/>
<polygon points="396.05,516.18 393.63,520.38 398.46,520.38" fill="#1a24c8"/>
<polygon points="393.45,566.51 391.03,570.71 395.86,570.71" fill="#1a24c8"/>
<polygon points="398.65,566.51 396.23,570.71 401.06,570.71" fill="#1a24c8"/>
<polygon points="396.05,563.22 393.63,567.42 398.46,567.42" fill="#1a24c8"/>
<polygon points="396.05,580.73 393.63,584.93 398.46,584.93" fill="#1a24c8"/>
<polygon points="396.05,595.50 393.63,599.70 398.46,599.70" fill="#1a24c8"/>
<polygon points="387.65,562.13 385.23,566.33 390.06,566.33" fill="#1a24c8"/>
<polygon points="405.85,562.13 403.43,566.33 408.26,566.33" fill="#1a24c8"/>
<line x1="396.05" y1="574.01" x2="396.05" y2="557.88" stroke="#1a24c8" stroke-width="1.4"/>
<line x1="390.85" y1="557.88" x2="401.25" y2="557.88" stroke="#1a24c8" stroke-width="1.4"/>
<line x1="390.85" y1="574.01" x2="401.25" y2="574.01" stroke="#1a24c8" stroke-width="1.4"/>
<polygon points="423.70,576.60 421.28,572.40 426.12,572.40" fill="#8a22c4"/>
<polygon points="429.50,580.42 427.08,576.23 431.92,576.23" fill="#8a22c4"/>
<polygon points="434.70,579.88 432.28,575.68 437.12,575.68" fill="#8a22c4"/>
<polygon points="423.70,594.10 421.28,589.90 426.12,589.90" fill="#8a22c4"/>
<polygon points="429.50,596.84 427.08,592.64 431.92,592.64" fill="#8a22c4"/>
<polygon points="434.70,594.10 432.28,589.90 437.12,589.90" fill="#8a22c4"/>
<polygon points="429.50,588.63 427.08,584.43 431.92,584.43" fill="#8a22c4"/>
<line x1="429.50" y1="589.60" x2="429.50" y2="581.94" stroke="#8a22c4" stroke-width="1.4"/>
<line x1="424.30" y1="581.94" x2="434.70" y2="581.94" stroke="#8a22c4" stroke-width="1.4"/>
<line x1="424.30" y1="589.60" x2="434.70" y2="589.60" stroke="#8a22c4" stroke-width="1.4"/>
<line x1="312.60" y1="498.30" x2="312.60" y2="608.20" stroke="#000" stroke-width="1.4"/>
<line x1="311.90" y1="608.20" x2="446.20" y2="608.20" stroke="#000" stroke-width="1.4"/>
<line x1="309.80" y1="608.20" x2="312.60" y2="608.20" stroke="#000" stroke-width="1.2"/>
<text x="309.1" y="610.5500000000001" font-size="6.6" text-anchor="end" font-weight="bold" fill="#000">0.0</text>
<line x1="309.80" y1="580.85" x2="312.60" y2="580.85" stroke="#000" stroke-width="1.2"/>
<text x="309.1" y="583.2" font-size="6.6" text-anchor="end" font-weight="bold" fill="#000">0.5</text>
<line x1="309.80" y1="553.50" x2="312.60" y2="553.50" stroke="#000" stroke-width="1.2"/>
<text x="309.1" y="555.85" font-size="6.6" text-anchor="end" font-weight="bold" fill="#000">1.0</text>
<line x1="309.80" y1="526.15" x2="312.60" y2="526.15" stroke="#000" stroke-width="1.2"/>
<text x="309.1" y="528.5000000000001" font-size="6.6" text-anchor="end" font-weight="bold" fill="#000">1.5</text>
<line x1="309.80" y1="498.80" x2="312.60" y2="498.80" stroke="#000" stroke-width="1.2"/>
<text x="309.1" y="501.1500000000001" font-size="6.6" text-anchor="end" font-weight="bold" fill="#000">2.0</text>
<line x1="329.65" y1="608.20" x2="329.65" y2="610.80" stroke="#000" stroke-width="1.2"/>
<text x="332.05" y="616.20" font-size="7.0" text-anchor="end" font-weight="bold" fill="#000" transform="rotate(-45 332.05 616.20)">Vehicle</text>
<line x1="363.05" y1="608.20" x2="363.05" y2="610.80" stroke="#000" stroke-width="1.2"/>
<text x="365.45" y="616.20" font-size="7.0" text-anchor="end" font-weight="bold" fill="#000" transform="rotate(-45 365.45 616.20)">ARS</text>
<line x1="396.05" y1="608.20" x2="396.05" y2="610.80" stroke="#000" stroke-width="1.2"/>
<text x="398.45" y="616.20" font-size="7.0" text-anchor="end" font-weight="bold" fill="#000" transform="rotate(-45 398.45 616.20)">SHP</text>
<line x1="429.50" y1="608.20" x2="429.50" y2="610.80" stroke="#000" stroke-width="1.2"/>
<text x="431.90" y="616.20" font-size="7.0" text-anchor="end" font-weight="bold" fill="#000" transform="rotate(-45 431.90 616.20)">ARS + SHP</text>
<text x="294.6" y="553.0" font-size="7.4" font-weight="bold" text-anchor="middle" transform="rotate(-90 294.6 553.0)">Relative <tspan font-style="italic">DUSP6</tspan> expression</text>
<line x1="324.40" y1="493.60" x2="430.50" y2="493.60" stroke="#000" stroke-width="1.5"/>
<text x="375.80" y="493.10" font-size="8.2" text-anchor="middle" font-weight="bold" stroke="#000" stroke-width="0.35">**</text>
<line x1="361.00" y1="507.10" x2="435.80" y2="507.10" stroke="#000" stroke-width="1.5"/>
<text x="396.30" y="506.60" font-size="8.2" text-anchor="middle" font-weight="bold" stroke="#000" stroke-width="0.35">*</text>
<line x1="394.60" y1="544.70" x2="434.30" y2="544.70" stroke="#000" stroke-width="1.5"/>
<text x="414.00" y="544.20" font-size="8.2" text-anchor="middle" font-weight="bold" stroke="#000" stroke-width="0.35">*</text>
</svg>
</body></html>
